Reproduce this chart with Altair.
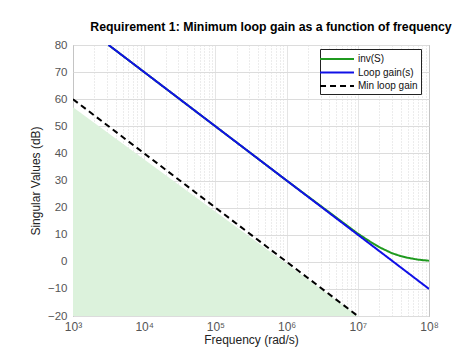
import altair as alt
import pandas as pd

# Data
loop_freq = [3162, 1e8]
loop_db = [80, -10]

invs_freq = [3162, 1e6, 1e7, 1.5e7, 2e7, 3e7, 4e7, 5e7, 7e7, 1e8]
invs_db = [80, 30, 10.4, 7.4, 5.4, 3.2, 2.1, 1.5, 0.8, 0.4]

min_freq = [1e3, 1e7]
min_db = [60, -20]

shade_freq = [1e3, 1e7]
shade_db = [57, -20]

series = ["inv(S)", "Loop gain(s)", "Min loop gain"]
colors = ["#1f9a1f", "#1010e6", "#000000"]
dashes = [[1, 0], [1, 0], [6, 4]]

x_ticks = [m * 10 ** e for e in range(3, 8) for m in range(1, 10)] + [1e8]
y_ticks = list(range(-20, 90, 10))

FONT = "Liberation Sans"

rows = []
for f, d in zip(invs_freq, invs_db):
    rows.append({"f": f, "db": d, "s": series[0], "o": 0})
for f, d in zip(loop_freq, loop_db):
    rows.append({"f": f, "db": d, "s": series[1], "o": 1})
for f, d in zip(min_freq, min_db):
    rows.append({"f": f, "db": d, "s": series[2], "o": 2})
lines_df = pd.DataFrame(rows)
shade_df = pd.DataFrame({"f": shade_freq, "db": shade_db})

is_major = "abs(log(datum.value)/LN10 - round(log(datum.value)/LN10)) < 1e-6"
sup = "['⁰','¹','²','³','⁴','⁵','⁶','⁷','⁸','⁹'][round(log(datum.value)/LN10)]"

xscale = alt.Scale(type="log", domain=[1e3, 1e8], nice=False)
yscale = alt.Scale(domain=[-20, 80], nice=False)

xaxis = alt.Axis(
    title="Frequency (rad/s)",
    values=x_ticks,
    labelExpr=f"({is_major}) ? '10' + {sup} : ''",
    labelOverlap=False,
    grid=True,
    gridDash={"condition": {"test": is_major, "value": [1, 0]}, "value": [1, 2]},
    gridColor={"condition": {"test": is_major, "value": "#dcdcdc"}, "value": "#d8d8d8"},
    ticks=False,
    labelFontSize=12,
    labelColor="#555555",
    labelPadding=5,
    labelFlush=False,
    titleFontSize=12,
    titleFontWeight="normal",
    titleColor="#222222",
    titlePadding=2,
    domain=False,
)
yaxis = alt.Axis(
    title="Singular Values (dB)",
    values=y_ticks,
    tickCount=11,
    labelOverlap=False,
    grid=True,
    gridColor="#dcdcdc",
    ticks=False,
    labelFontSize=11.5,
    labelColor="#555555",
    labelPadding=6,
    titleFontSize=12,
    titleFontWeight="normal",
    titleColor="#222222",
    titlePadding=5,
    domain=False,
)

shade = alt.Chart(shade_df).mark_area(color="#dcf2dc", opacity=1).encode(
    x=alt.X("f:Q", scale=xscale, axis=xaxis),
    y=alt.Y("db:Q", scale=yscale, axis=yaxis),
    y2=alt.datum(-20),
)

lines = alt.Chart(lines_df).mark_line(strokeWidth=2, clip=True).encode(
    x=alt.X("f:Q", scale=xscale, axis=xaxis),
    y=alt.Y("db:Q", scale=yscale, axis=yaxis),
    color=alt.Color(
        "s:N",
        scale=alt.Scale(domain=series, range=colors),
        legend=alt.Legend(
            title=None,
            orient="none",
            legendX=247,
            legendY=4,
            fillColor="white",
            strokeColor="#222222",
            padding=3,
            labelFont=FONT,
            labelFontSize=10,
            labelColor="#111111",
            symbolType="M-2.83,0H2.83",
            symbolSize=144,
            symbolStrokeWidth=2,
            symbolOffset=7,
            rowPadding=1.5,
            labelOffset=14,
        ),
    ),
    strokeDash=alt.StrokeDash(
        "s:N", scale=alt.Scale(domain=series, range=dashes), legend=None
    ),
    order=alt.Order("o:Q"),
)

chart = (
    alt.layer(shade, lines)
    .properties(
        width=356,
        height=271,
        padding={"left": 21, "top": 12, "right": 5, "bottom": 5},
        title=alt.TitleParams(
            "Requirement 1: Minimum loop gain as a function of frequency",
            font=FONT,
            fontSize=12.3,
            fontWeight="bold",
            color="#000000",
            anchor="middle",
            dx=20,
            offset=6,
        ),
    )
    .configure(font=FONT)
    .configure_view(stroke="#7a7a7a", strokeWidth=1)
)

chart.save("out.html", embed_options={"renderer": "svg", "actions": False})
